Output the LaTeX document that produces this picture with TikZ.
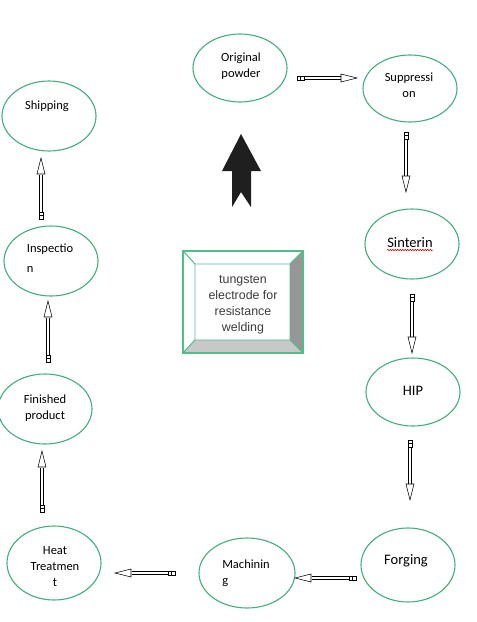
\documentclass[tikz,border=0pt]{standalone}
\usepackage{fontspec}
\setmainfont{Carlito}
\newfontfamily\boxfont{Liberation Sans}
\usetikzlibrary{calc,decorations.pathmorphing,shapes.geometric}
\definecolor{egreen}{RGB}{68,174,124}
\definecolor{bgreen}{RGB}{80,190,140}
\definecolor{darkbevel}{RGB}{150,150,150}
\definecolor{lightbevel}{RGB}{200,200,200}
\definecolor{boxtext}{RGB}{60,60,60}
\tikzset{
  stage/.style={ellipse, draw=egreen, line width=1.1pt, inner sep=0pt},
  stagetext/.style={inner sep=0pt, align=center, font=\fontsize{12.5}{16}\selectfont},
  stagetextleft/.style={stagetext, align=left},
  bigtext/.style={stagetext, font=\fontsize{14.5}{18}\selectfont},
  shaft/.style={line width=0.55pt, double=white, double distance=2.4pt},
  headtip/.style={draw=black, line width=0.55pt, fill=white, line join=miter},
  tailsq/.style={draw=black, line width=0.5pt, fill=white, minimum size=3.6pt, inner sep=0pt, rectangle},
  bevel/.style={draw=bgreen, line width=0.9pt},
}
\newcommand\hollowarrow[2]{%
  \coordinate (hb) at ($(#2)!16pt!(#1)$);
  \coordinate (ts) at ($(#1)!7pt!(#2)$);
  \draw[shaft] (ts) -- ($(hb)!-0.5pt!(#2)$);
  \draw[headtip] (#2) -- ($(hb)!4pt!90:(#2)$) -- ($(hb)!1.7pt!90:(#2)$)
     -- ($(hb)!1.7pt!-90:(#2)$) -- ($(hb)!4pt!-90:(#2)$) -- cycle;
  \node[tailsq] at ($(#1)!1.8pt!(#2)$) {};
  \node[tailsq] at ($(#1)!5.4pt!(#2)$) {};
}
\begin{document}
\begin{tikzpicture}[x=1pt,y=-1pt]
\useasboundingbox[fill=white] (0,0) rectangle (477,622);

% stages (ellipses)
\node[stage, minimum width=94pt, minimum height=68pt] (orig) at (240,68) {};
\node[stage, minimum width=94pt, minimum height=67pt] (supp) at (410,88.5) {};
\node[stage, minimum width=94pt, minimum height=70pt] (ship) at (49,116) {};
\node[stage, minimum width=94pt, minimum height=70pt] (sint) at (412,244) {};
\node[stage, minimum width=94pt, minimum height=70pt] (insp) at (51,261) {};
\node[stage, minimum width=94pt, minimum height=68pt] (hip) at (413,392) {};
\node[stage, minimum width=94pt, minimum height=70pt] (fin) at (45,409) {};
\node[stage, minimum width=94pt, minimum height=74pt] (heat) at (54,563) {};
\node[stage, minimum width=96pt, minimum height=70pt] (mach) at (247,573) {};
\node[stage, minimum width=94pt, minimum height=74pt] (forg) at (408,565) {};

% stage texts
\node[stagetext] (origT) at (241,66.5) {Original\\powder};
\node[stagetext] (suppT) at (409,85) {Suppressi\\on};
\node[stagetext] (shipT) at (47,106) {Shipping};
\node[bigtext] (sintT) at (410,243) {Sinterin};
\node[stagetextleft, font=\fontsize{12.5}{20}\selectfont] (inspT) at (50,258) {Inspectio\\n};
\node[bigtext] (hipT) at (413,391) {HIP};
\node[stagetext] (finT) at (45,408) {Finished\\product};
\node[stagetext] (heatT) at (55,567) {Heat\\Treatmen\\t};
\node[stagetextleft] (machT) at (246,573) {Machinin\\g};
\node[bigtext] (forgT) at (406,561) {Forging};

% spell-check squiggle under Sinterin
\coordinate (sq1) at (387,250);
\coordinate (sq2) at (433,250);
\draw[red!85!black, line width=0.5pt, decorate,
      decoration={snake, amplitude=0.8pt, segment length=2.5pt}] (sq1) -- (sq2);

% arrow end points
\coordinate (a1t) at (297,78);  \coordinate (a1h) at (357,78);
\coordinate (a2t) at (406,132); \coordinate (a2h) at (406,192);
\coordinate (a3t) at (412,294); \coordinate (a3h) at (412,353);
\coordinate (a4t) at (410,440); \coordinate (a4h) at (410,500);
\coordinate (a5t) at (356,578); \coordinate (a5h) at (295,578);
\coordinate (a6t) at (175,573); \coordinate (a6h) at (115,573);
\coordinate (a7t) at (42,512);  \coordinate (a7h) at (42,451);
\coordinate (a8t) at (48,362);  \coordinate (a8h) at (48,301);
\coordinate (a9t) at (41,219);  \coordinate (a9h) at (41,158);

\hollowarrow{a1t}{a1h}
\hollowarrow{a2t}{a2h}
\hollowarrow{a3t}{a3h}
\hollowarrow{a4t}{a4h}
\hollowarrow{a5t}{a5h}
\hollowarrow{a6t}{a6h}
\hollowarrow{a7t}{a7h}
\hollowarrow{a8t}{a8h}
\hollowarrow{a9t}{a9h}

% black up arrow
\fill[black!88] (241,134) -- (261,171) -- (251,171) -- (251,207) -- (241,192)
   -- (232,207) -- (232,171) -- (222,171) -- cycle;

% central bevel box
\coordinate (o1) at (183,251); \coordinate (o2) at (303,251);
\coordinate (o3) at (303,353); \coordinate (o4) at (183,353);
\coordinate (i1) at (195,264); \coordinate (i2) at (290,264);
\coordinate (i3) at (290,340); \coordinate (i4) at (195,340);
\filldraw[bevel, fill=white] (o1) -- (o2) -- (i2) -- (i1) -- cycle;
\filldraw[bevel, fill=white] (o1) -- (i1) -- (i4) -- (o4) -- cycle;
\filldraw[bevel, fill=darkbevel] (o2) -- (o3) -- (i3) -- (i2) -- cycle;
\filldraw[bevel, fill=lightbevel] (o4) -- (i4) -- (i3) -- (o3) -- cycle;
\draw[bevel, line width=1.3pt] (o1) rectangle (o3);
\node[align=center, text=boxtext, inner sep=0pt,
      font=\boxfont\fontsize{12.4}{16}\selectfont] (title) at (243,305)
  {tungsten\\electrode for\\resistance\\welding};
\end{tikzpicture}
\end{document}
